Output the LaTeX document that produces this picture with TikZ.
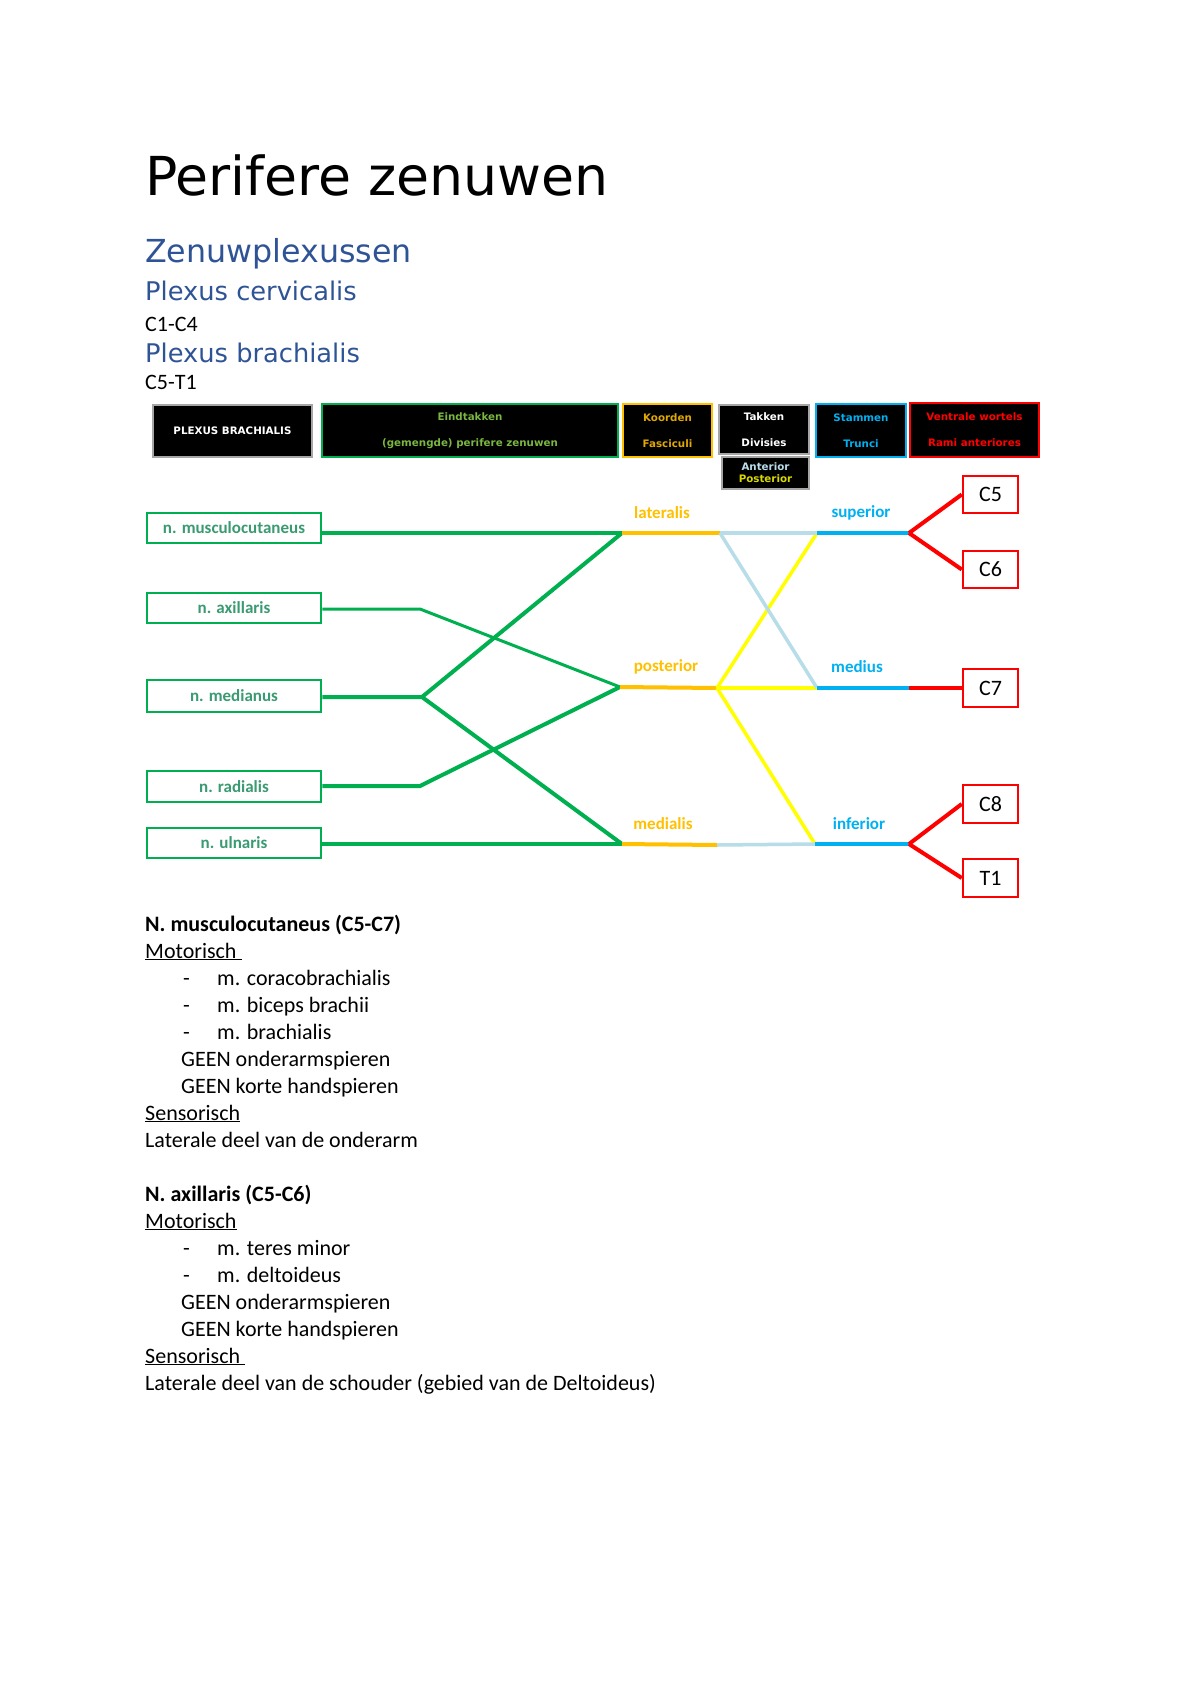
\documentclass[tikz,border=0pt]{standalone}
\usepackage{fontspec}
\setmainfont{Carlito}
\newfontfamily\dejavu{DejaVu Sans}
\definecolor{nGreen}{HTML}{00B050}
\definecolor{nText}{HTML}{3A9A72}
\definecolor{eText}{HTML}{7AB640}
\definecolor{fOrange}{HTML}{FFC000}
\definecolor{fOrText}{HTML}{E0A800}
\definecolor{dLBlue}{HTML}{B7DDE8}
\definecolor{dYellow}{HTML}{FFFF00}
\definecolor{tBlue}{HTML}{00B0F0}
\definecolor{hBlue}{HTML}{2F5496}
\definecolor{rRed}{HTML}{FF0000}
\begin{document}
\begin{tikzpicture}[x=1pt,y=-1pt,
  hbox/.style={draw, line width=2.5pt, fill=black, inner sep=0pt, align=center,
    font=\dejavu\bfseries\fontsize{10.3}{26}\selectfont},
  nbox/.style={draw=nGreen, line width=2.5pt, fill=white, minimum width=174pt,
    minimum height=30pt, inner sep=0pt, text=nText, font=\bfseries\fontsize{17}{20}\selectfont},
  cbox/.style={draw=rRed, line width=2.5pt, fill=white, minimum width=55pt,
    minimum height=37pt, inner sep=0pt, font=\fontsize{22}{26}\selectfont},
  lbl/.style={inner sep=0pt, font=\bfseries\fontsize{17}{20}\selectfont},
  gl/.style={nGreen, line width=4pt},
  ol/.style={fOrange, line width=4pt},
  lbl2/.style={dLBlue, line width=3.5pt},
  yl/.style={dYellow, line width=3.5pt},
  bl/.style={tBlue, line width=4pt},
  rl/.style={rRed, line width=4pt},
  body/.style={anchor=base west, inner sep=0pt, font=\fontsize{22}{27}\selectfont},
  head/.style={anchor=base west, inner sep=0pt, text=hBlue},
]
\useasboundingbox[fill=white] (0,0) rectangle (1200,1698);

% ---------- headings ----------
\node[anchor=base west, inner sep=0pt, font=\dejavu\fontsize{53.7}{60}\selectfont] (title) at (145,195) {Perifere zenuwen};
\node[head, font=\dejavu\fontsize{31.7}{36}\selectfont] (h1) at (145,262) {Zenuwplexussen};
\node[head, font=\dejavu\fontsize{25.7}{30}\selectfont] (h2) at (145,300) {Plexus cervicalis};
\node[body] (t1) at (145,331) {C1-C4};
\node[head, font=\dejavu\fontsize{25.7}{30}\selectfont] (h3) at (145,362) {Plexus brachialis};
\node[body] (t2) at (145,389) {C5-T1};

% ---------- header boxes ----------
\node[hbox, draw=gray!70, text=white, minimum width=159pt, minimum height=52pt] (hb1) at (232.5,431) {PLEXUS BRACHIALIS};
\node[hbox, draw=nGreen, text=eText, minimum width=296pt, minimum height=53pt] (hb2) at (470,430.5) {Eindtakken\\(gemengde) perifere zenuwen};
\node[hbox, draw=fOrange, text=fOrText, minimum width=89pt, minimum height=53pt] (hb3) at (667.5,430.5) {Koorden\\Fasciculi};
\node[hbox, draw=gray!70, text=white, minimum width=90pt, minimum height=49pt] (hb4) at (764,429.5) {Takken\\Divisies};
\node[hbox, draw=gray!70, minimum width=87pt, minimum height=32pt,
  font=\dejavu\bfseries\fontsize{10.3}{12}\selectfont] (hb5) at (765.5,473) {\textcolor{dLBlue}{Anterior}\\\textcolor{dYellow!85!black}{Posterior}};
\node[hbox, draw=tBlue, text=tBlue, minimum width=90pt, minimum height=53pt] (hb6) at (861,430.5) {Stammen\\Trunci};
\node[hbox, draw=rRed, text=rRed, minimum width=129pt, minimum height=54pt] (hb7) at (974.5,430) {Ventrale wortels\\Rami anteriores};

% ---------- nerve boxes ----------
\node[nbox] (mc) at (234,528) {n. musculocutaneus};
\node[nbox] (ax) at (234,608) {n. axillaris};
\node[nbox, minimum height=32pt] (me) at (234,696) {n. medianus};
\node[nbox, minimum height=31pt] (ra) at (234,786.5) {n. radialis};
\node[nbox] (ul) at (234,843) {n. ulnaris};

% ---------- root boxes ----------
\node[cbox] (c5) at (990.5,494.5) {C5};
\node[cbox] (c6) at (990.5,569.5) {C6};
\node[cbox, minimum height=38pt] (c7) at (990.5,688) {C7};
\node[cbox, minimum height=38pt] (c8) at (990.5,804) {C8};
\node[cbox, minimum height=38pt] (tt1) at (990.5,878) {T1};

% ---------- junction points ----------
\coordinate (axK) at (420,609);
\coordinate (meK) at (422,697);
\coordinate (raK) at (420,786);
\coordinate (lat) at (622,533);
\coordinate (post) at (620,687);
\coordinate (med) at (622,844);
\coordinate (latE) at (720,533);
\coordinate (postE) at (717,688);
\coordinate (medE) at (717,845);
\coordinate (sup) at (817,533);
\coordinate (mid) at (817,688);
\coordinate (inf) at (815,844);
\coordinate (supE) at (909,533);
\coordinate (midE) at (909,688);
\coordinate (infE) at (909,844);

% ---------- labels ----------
\node[lbl, text=fOrange] (llat) at (662,513) {lateralis};
\node[lbl, text=fOrange] (lpost) at (666,667) {posterior};
\node[lbl, text=fOrange] (lmed) at (663,824) {medialis};
\node[lbl, text=tBlue] (lsup) at (861,513) {superior};
\node[lbl, text=tBlue] (lmid) at (857,667) {medius};
\node[lbl, text=tBlue] (linf) at (859,824) {inferior};

% ---------- green (terminal branches) ----------
\draw[gl] (mc.east |- lat) -- (lat);
\draw[gl, line width=3pt] (ax.east |- axK) -- (axK) -- (post);
\draw[gl] (me.east |- meK) -- (meK) -- (lat);
\draw[gl] (meK) -- (med);
\draw[gl] (ra.east |- raK) -- (raK) -- (post);
\draw[gl] (ul.east |- med) -- (med);

% ---------- orange (cords) ----------
\draw[ol] (lat) -- (latE);
\draw[ol] (post) -- (postE);
\draw[ol] (med) -- (medE);

% ---------- divisions ----------
\draw[yl] (postE) -- (sup);
\draw[yl] (postE) -- (mid);
\draw[yl] (postE) -- (inf);
\draw[lbl2] (latE) -- (sup);
\draw[lbl2] (latE) -- (mid);
\draw[lbl2] (medE) -- (inf);

% ---------- trunks ----------
\draw[bl] (sup) -- (supE);
\draw[bl] (mid) -- (midE);
\draw[bl] (inf) -- (infE);

% ---------- roots ----------
\draw[rl] (supE) -- (c5.west);
\draw[rl] (supE) -- (c6.west);
\draw[rl] (midE) -- (c7.west);
\draw[rl] (infE) -- (c8.west);
\draw[rl] (infE) -- (tt1.west);

% ---------- body text ----------
\node[body, font=\bfseries\fontsize{22}{27}\selectfont] (b1) at (145,931) {N. musculocutaneus (C5-C7)};
\node[body] (b2) at (145,958) {\underline{Motorisch\ }};
\node[body] (d3) at (183,985) {-};
\node[body] (b3) at (217,985) {m. coracobrachialis};
\node[body] (d4) at (183,1012) {-};
\node[body] (b4) at (217,1012) {m. biceps brachii};
\node[body] (d5) at (183,1039) {-};
\node[body] (b5) at (217,1039) {m. brachialis};
\node[body] (b6) at (181,1066) {GEEN onderarmspieren};
\node[body] (b7) at (181,1093) {GEEN korte handspieren};
\node[body] (b8) at (145,1120) {\underline{Sensorisch}};
\node[body] (b9) at (145,1147) {Laterale deel van de onderarm};

\node[body, font=\bfseries\fontsize{22}{27}\selectfont] (b10) at (145,1201) {N. axillaris (C5-C6)};
\node[body] (b11) at (145,1228) {\underline{Motorisch}};
\node[body] (d12) at (183,1255) {-};
\node[body] (b12) at (217,1255) {m. teres minor};
\node[body] (d13) at (183,1282) {-};
\node[body] (b13) at (217,1282) {m. deltoideus};
\node[body] (b14) at (181,1309) {GEEN onderarmspieren};
\node[body] (b15) at (181,1336) {GEEN korte handspieren};
\node[body] (b16) at (145,1363) {\underline{Sensorisch\ }};
\node[body] (b17) at (145,1390) {Laterale deel van de schouder (gebied van de Deltoideus)};
\end{tikzpicture}
\end{document}
